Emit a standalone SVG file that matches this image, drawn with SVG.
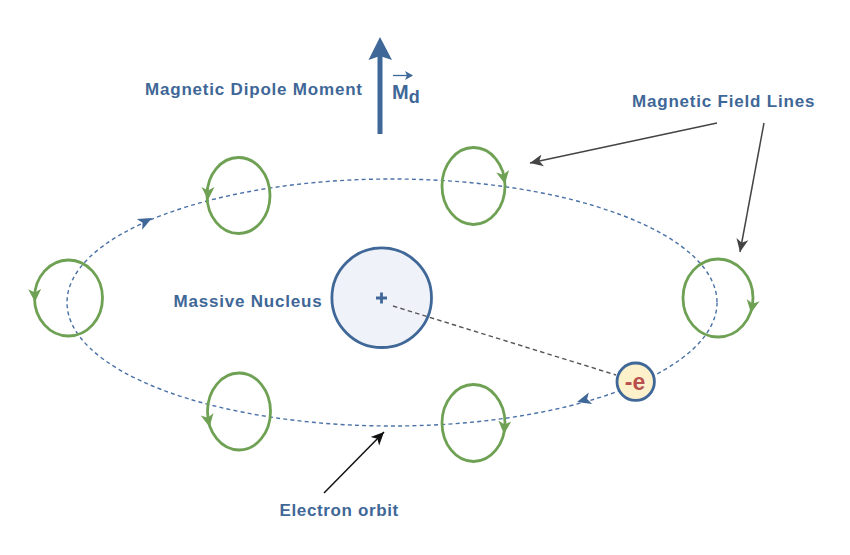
<svg xmlns="http://www.w3.org/2000/svg" width="850" height="555" viewBox="0 0 850 555">
<style>
text{font-family:"Liberation Sans",Arial,sans-serif;font-weight:bold;fill:#3f6797}
.lbl{font-size:17px;letter-spacing:.8px}
.loop{fill:none;stroke:#6ea153;stroke-width:2.800}
.tick{fill:none;stroke:none}
.orbit{fill:none;stroke:#4a72a6;stroke-width:1.400;stroke-dasharray:4 3.200}
.lead{fill:none;stroke-width:1.500}
</style>
<defs>
<marker id="hg" markerUnits="userSpaceOnUse" markerWidth="18" markerHeight="18" refX="13" refY="9" orient="auto"><path d="M0 2.500L13 9L0 15.500L3.500 9Z" fill="#6ea153"/></marker>
<marker id="hb" markerUnits="userSpaceOnUse" markerWidth="18" markerHeight="18" refX="14" refY="9" orient="auto"><path d="M0 3L14 9L0 15L3.500 9Z" fill="#3f6797"/></marker>
<marker id="hd" markerUnits="userSpaceOnUse" markerWidth="18" markerHeight="18" refX="13" refY="9" orient="auto"><path d="M0 3L13 9L0 15L3.500 9Z" fill="#444"/></marker>
<marker id="hk" markerUnits="userSpaceOnUse" markerWidth="18" markerHeight="18" refX="13" refY="9" orient="auto"><path d="M0 3L13 9L0 15L3.500 9Z" fill="#111"/></marker>
</defs>
<g id="nucleus">
<circle cx="381.700" cy="297.700" r="49.800" fill="#eff2f8" stroke="#3f6797" stroke-width="2.800"/>
<path d="M376 298H387M381.500 292.500V303.500" stroke="#3f6797" stroke-width="2.800" fill="none"/>
<text class="lbl" x="173.500" y="307">Massive Nucleus</text>
</g>
<g id="connectors">
<ellipse class="orbit" cx="392" cy="302.500" rx="325" ry="123.500"/>
<path class="tick" d="M146 221L152 218" marker-end="url(#hb)"/>
<path class="tick" d="M584 400L577 402" marker-end="url(#hb)"/>
<path d="M393 306L616 375" fill="none" stroke="#555" stroke-width="1.400" stroke-dasharray="4.500 3.200"/>
<path class="lead" stroke="#444" d="M717 123L530 163" marker-end="url(#hd)"/>
<path class="lead" stroke="#444" d="M764 123L740 252" marker-end="url(#hd)"/>
<path class="lead" stroke="#111" d="M324 493L384 432" marker-end="url(#hk)"/>
</g>
<g id="dipole">
<path d="M380 134V55" stroke="#3f6797" stroke-width="5" fill="none"/>
<path d="M380 37L392 60L380 56L368.500 60Z" fill="#3f6797"/>
<text class="lbl" x="145" y="94.500">Magnetic Dipole Moment</text>
<path d="M393 75.500H412" stroke="#3f6797" stroke-width="1.300" fill="none"/>
<path d="M413 75.500L405 71L407 75.500L405 80Z" fill="#3f6797"/>
<text x="392" y="99" font-size="20">M<tspan font-size="18" dy="4">d</tspan></text>
</g>
<g id="field-label"><text class="lbl" x="632" y="107">Magnetic Field Lines</text></g>
<g id="loop-left"><ellipse class="loop" cx="68.500" cy="298" rx="34" ry="38"/><path class="tick" d="M34.800 294L35 302" marker-end="url(#hg)"/></g>
<g id="loop-upper-left"><ellipse class="loop" cx="238.500" cy="195.500" rx="31.500" ry="38"/><path class="tick" d="M208 192L208 200" marker-end="url(#hg)"/></g>
<g id="loop-upper-right"><ellipse class="loop" cx="473.500" cy="186" rx="31.500" ry="38.500"/><path class="tick" d="M503.500 176L505 184" marker-end="url(#hg)"/></g>
<g id="loop-right"><ellipse class="loop" cx="718" cy="298" rx="35" ry="39"/><path class="tick" d="M752.500 304L751 313" marker-end="url(#hg)"/></g>
<g id="loop-lower-left"><ellipse class="loop" cx="239" cy="411.500" rx="31.500" ry="38.500"/><path class="tick" d="M208 419L209.500 427" marker-end="url(#hg)"/></g>
<g id="loop-lower-right"><ellipse class="loop" cx="473.500" cy="423" rx="31.500" ry="38.500"/><path class="tick" d="M504.500 426L504 434" marker-end="url(#hg)"/></g>
<g id="electron">
<circle cx="635.700" cy="381.700" r="18.700" fill="#fdf1cc" stroke="#3f6797" stroke-width="2.800"/>
<text x="635" y="389.500" font-size="23" text-anchor="middle" style="fill:#b9504e">-e</text>
</g>
<g id="orbit-label"><text class="lbl" x="279.500" y="516" textLength="119.500">Electron orbit</text></g>
</svg>
